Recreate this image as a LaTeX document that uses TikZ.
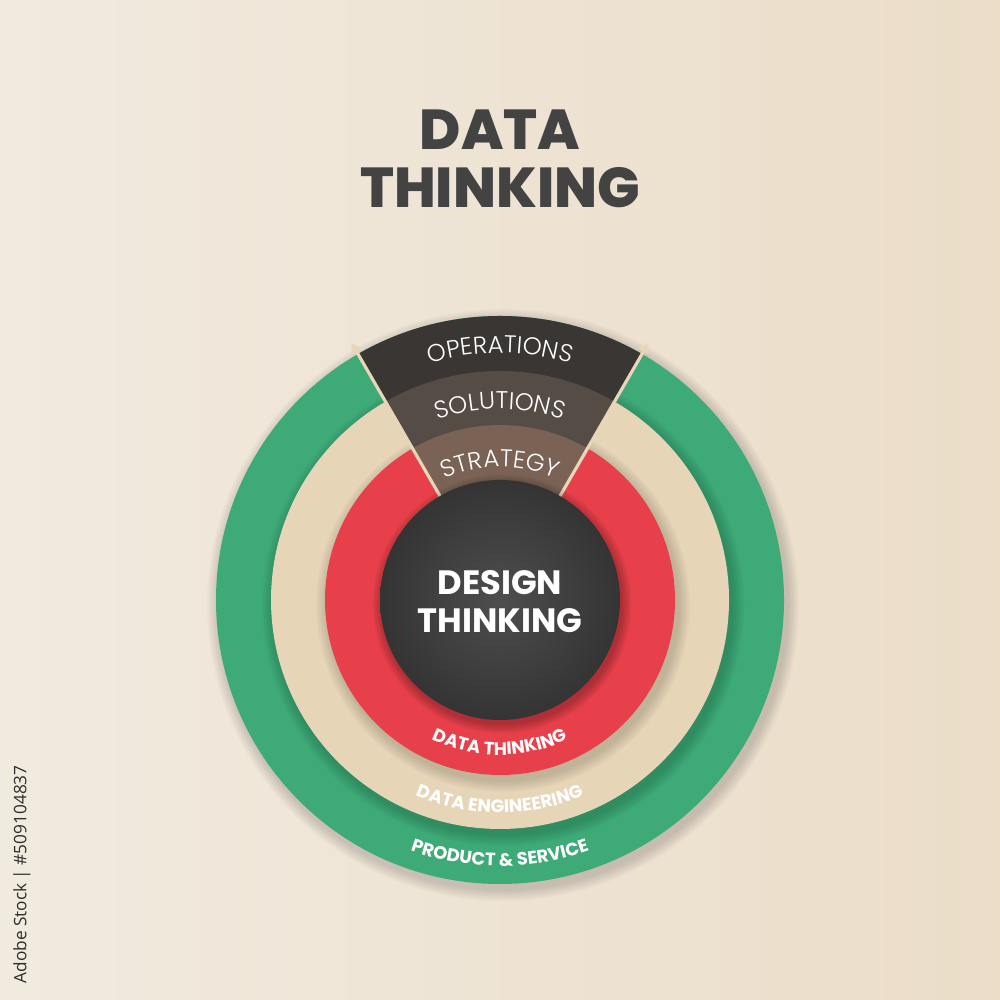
\documentclass[tikz,border=0pt]{standalone}
\usepackage{fontspec}
\setmainfont{Poppins}
\newfontfamily\thinfont{Poppins Light}
\newfontfamily\heavyfont{Poppins ExtraBold}
\newfontfamily\creditfont{Open Sans}
\usetikzlibrary{calc,arrows.meta,decorations.text}

\definecolor{bgLight}{HTML}{F1EADF}
\definecolor{bgDark}{HTML}{EBDDC8}
\definecolor{titleGray}{HTML}{434343}
\definecolor{ringGreen}{HTML}{3EAA78}
\definecolor{ringBeige}{HTML}{E7D5B8}
\definecolor{ringRed}{HTML}{E8404B}
\definecolor{wedgeOps}{HTML}{3A3633}
\definecolor{wedgeSol}{HTML}{564C46}
\definecolor{wedgeStr}{HTML}{7A6354}
\definecolor{coreLight}{HTML}{4E4E4E}
\definecolor{coreDark}{HTML}{343434}
\definecolor{edgeLine}{HTML}{E8D6B8}
\definecolor{creditGray}{HTML}{2E2E2E}

\newcommand{\ringfont}{\fontsize{5.1}{6}\selectfont\bfseries}
\newcommand{\wedgefont}{\thinfont\fontsize{6.9}{7.5}\selectfont}

\tikzset{
  titletext/.style={font=\heavyfont\fontsize{16}{16.6}\selectfont, text=titleGray, align=center, inner sep=0pt},
  coretext/.style={font=\fontsize{9.6}{10.6}\selectfont\bfseries, text=white, align=center, inner sep=0pt},
  ringlabel/.style={decorate, decoration={text along path, text align=center, text color=white, text={|\ringfont|#1}}},
  wedgelabel/.style={decorate, decoration={text along path, text align=center, text color=white, text={|\wedgefont|#1}}},
  edgearrow/.style={edgeLine, line width=0.9pt, -{Triangle[length=2.8pt,width=3pt]}},
}

\begin{document}
\begin{tikzpicture}[x=1cm,y=1cm]
  % background
  \useasboundingbox (0,0) rectangle (10,10);
  \shade[left color=bgLight, right color=bgDark] (0,0) rectangle (10,10);
  \coordinate (c) at (5,4);

  % title
  \node[titletext] (title) at (5,8.41) {DATA\\THINKING};

  % rings, each with a soft shadow
  \foreach \r/\col in {2.84/ringGreen,2.29/ringBeige,1.75/ringRed}{
    \foreach \k in {1,...,8}
      \fill[black,opacity=0.02] ($(c)+(0.03,-0.05)$) circle ({\r+0.015*\k});
    \fill[\col] (c) circle (\r);
  }

  % wedge on top
  \foreach \r/\col in {2.84/wedgeOps,2.29/wedgeSol,1.75/wedgeStr}
    \fill[\col] (c) -- ($(c)+(60:\r)$) arc[start angle=60,end angle=120,radius=\r] -- cycle;

  % arrows along the wedge edges
  \draw[edgearrow] ($(c)+(120:1.1)$) -- ($(c)+(120:2.97)$);
  \draw[edgearrow] ($(c)+(60:1.1)$) -- ($(c)+(60:2.97)$);

  % centre circle
  \foreach \k in {1,...,8}
    \fill[black,opacity=0.03] ($(c)+(0.02,-0.04)$) circle ({1.2+0.012*\k});
  \shade[inner color=coreLight, outer color=coreDark] (c) circle (1.2);
  \node[coretext] (core) at (5,3.985) {DESIGN\\THINKING};

  % labels in the wedge
  \path[wedgelabel={OPERATIONS}] ($(c)+(135:2.47)$) arc[start angle=135,end angle=45,radius=2.47];
  \path[wedgelabel={SOLUTIONS}] ($(c)+(135:1.91)$) arc[start angle=135,end angle=45,radius=1.91];
  \path[wedgelabel={STRATEGY}] ($(c)+(140:1.33)$) arc[start angle=140,end angle=40,radius=1.33];

  % labels along the rings
  \path[ringlabel={DATA THINKING}] ($(c)+(220:1.55)$) arc[start angle=220,end angle=320,radius=1.55];
  \path[ringlabel={DATA ENGINEERING}] ($(c)+(225:2.13)$) arc[start angle=225,end angle=315,radius=2.13];
  \path[ringlabel={PRODUCT {\&} SERVICE}] ($(c)+(230:2.66)$) arc[start angle=230,end angle=310,radius=2.66];

  % stock credit
  \node[rotate=90, anchor=west, inner sep=0pt, font=\creditfont\fontsize{4.9}{5}\selectfont, text=creditGray] (credit) at (0.22,0.16) {Adobe Stock | \#509104837};
\end{tikzpicture}
\end{document}
